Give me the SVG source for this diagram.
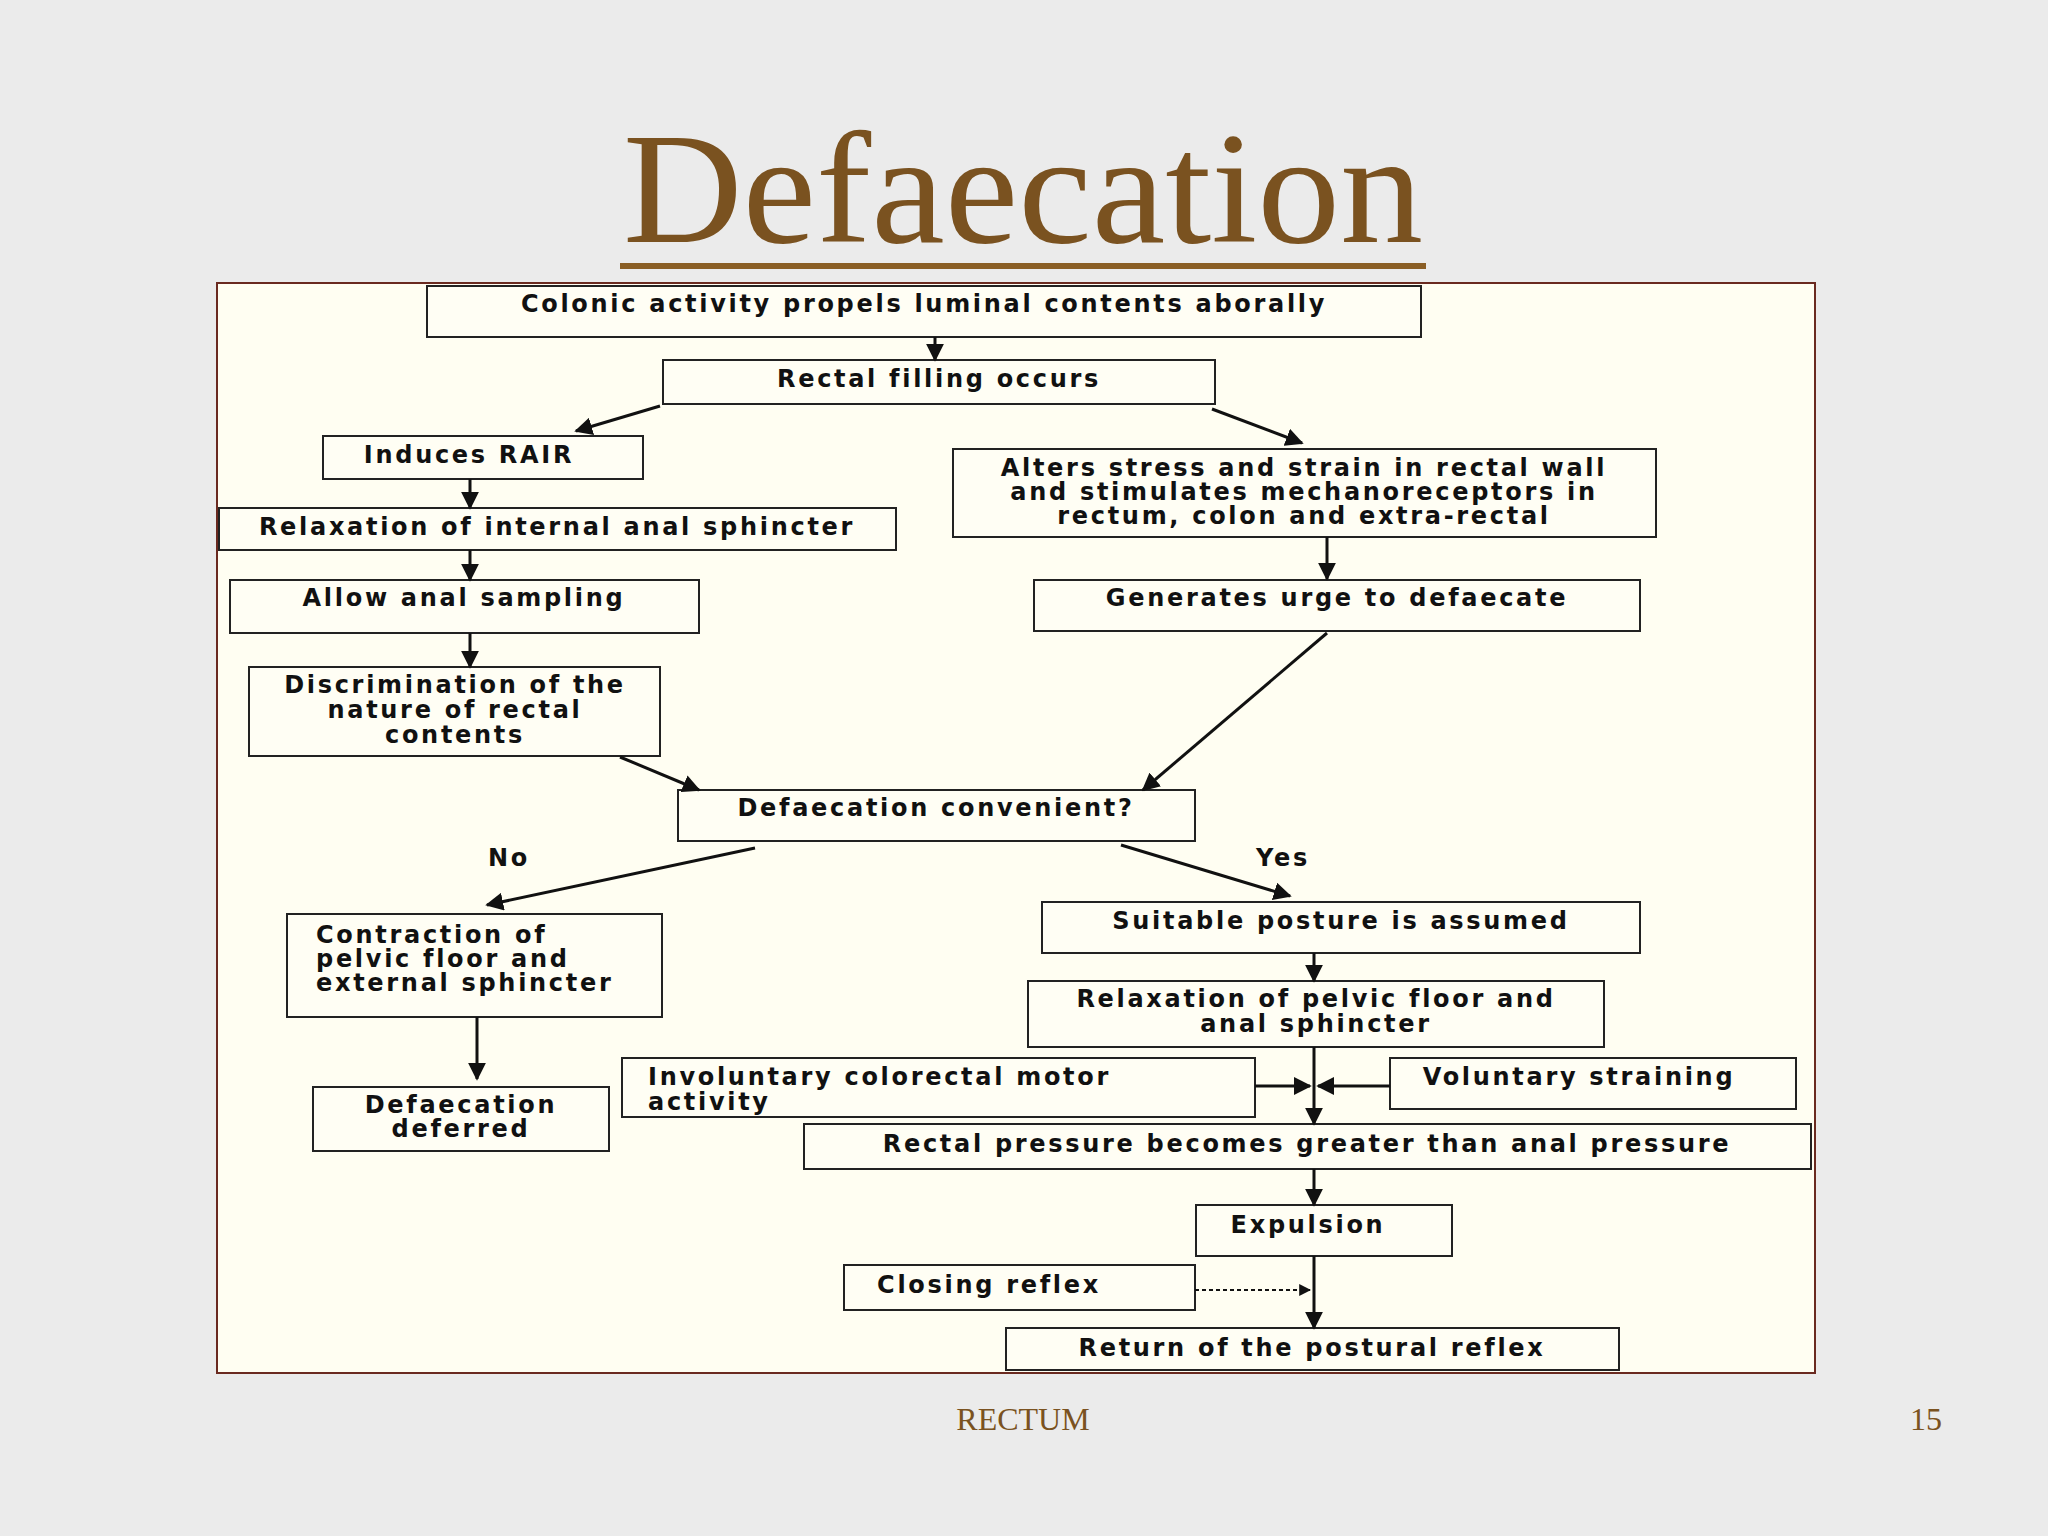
<svg xmlns="http://www.w3.org/2000/svg" width="2048" height="1536" viewBox="0 0 2048 1536">
<defs>
<marker id="ah" viewBox="0 0 10 10" refX="9" refY="5" markerWidth="6" markerHeight="6" orient="auto"><path d="M0,0 L10,5 L0,10 z" fill="#111"/></marker>
<style>
.b rect{fill:#fffef4;stroke:#222;stroke-width:2}
.b text{font-family:"DejaVu Sans",Verdana,sans-serif;font-weight:bold;font-size:24px;letter-spacing:2.7px;fill:#111;text-anchor:middle}
.c line{stroke:#111;stroke-width:3;marker-end:url(#ah)}
.f{font-family:"Liberation Serif","Times New Roman",serif;fill:#7a5220}
</style>
</defs>
<rect width="2048" height="1536" fill="#ebebeb"/>
<text class="f" x="1023" y="242" font-size="158" text-anchor="middle" fill="#8a5e25" textLength="800" lengthAdjust="spacingAndGlyphs">Defaecation</text>
<rect x="620" y="263" width="806" height="6" fill="#8a5e25"/>
<rect x="217" y="283" width="1598" height="1090" fill="#fffef2" stroke="#6a2a20" stroke-width="2"/>
<g class="b">
<g id="n1"><rect x="427" y="286" width="994" height="51"/><text x="924" y="312">Colonic activity propels luminal contents aborally</text></g>
<g id="n2"><rect x="663" y="360" width="552" height="44"/><text x="939" y="387">Rectal filling occurs</text></g>
<g id="n3"><rect x="323" y="436" width="320" height="43"/><text x="469" y="463">Induces RAIR</text></g>
<g id="n4"><rect x="219" y="508" width="677" height="42"/><text x="557" y="535">Relaxation of internal anal sphincter</text></g>
<g id="n5"><rect x="230" y="580" width="469" height="53"/><text x="464" y="606">Allow anal sampling</text></g>
<g id="n6"><rect x="249" y="667" width="411" height="89"/><text x="455" y="693">Discrimination of the</text><text x="455" y="718">nature of rectal</text><text x="455" y="743">contents</text></g>
<g id="n7"><rect x="953" y="449" width="703" height="88"/><text x="1304" y="476">Alters stress and strain in rectal wall</text><text x="1304" y="500">and stimulates mechanoreceptors in</text><text x="1304" y="524">rectum, colon and extra-rectal</text></g>
<g id="n8"><rect x="1034" y="580" width="606" height="51"/><text x="1337" y="606">Generates urge to defaecate</text></g>
<g id="n9"><rect x="678" y="790" width="517" height="51"/><text x="936" y="816">Defaecation convenient?</text></g>
<g id="n10"><rect x="287" y="914" width="375" height="103"/><text x="316" y="943" style="text-anchor:start">Contraction of</text><text x="316" y="967" style="text-anchor:start">pelvic floor and</text><text x="316" y="991" style="text-anchor:start">external sphincter</text></g>
<g id="n11"><rect x="313" y="1087" width="296" height="64"/><text x="461" y="1113">Defaecation</text><text x="461" y="1137">deferred</text></g>
<g id="n12"><rect x="1042" y="902" width="598" height="51"/><text x="1341" y="929">Suitable posture is assumed</text></g>
<g id="n13"><rect x="1028" y="981" width="576" height="66"/><text x="1316" y="1007">Relaxation of pelvic floor and</text><text x="1316" y="1032">anal sphincter</text></g>
<g id="n14"><rect x="622" y="1058" width="633" height="59"/><text x="648" y="1085" style="text-anchor:start">Involuntary colorectal motor</text><text x="648" y="1110" style="text-anchor:start">activity</text></g>
<g id="n15"><rect x="1390" y="1058" width="406" height="51"/><text x="1579" y="1085">Voluntary straining</text></g>
<g id="n16"><rect x="804" y="1124" width="1007" height="45"/><text x="1307" y="1152">Rectal pressure becomes greater than anal pressure</text></g>
<g id="n17"><rect x="1196" y="1205" width="256" height="51"/><text x="1308" y="1233">Expulsion</text></g>
<g id="n18"><rect x="844" y="1265" width="351" height="45"/><text x="989" y="1293">Closing reflex</text></g>
<g id="n19"><rect x="1006" y="1328" width="613" height="42"/><text x="1312" y="1356">Return of the postural reflex</text></g>
<text x="509" y="866">No</text>
<text x="1283" y="866">Yes</text>
</g>
<g class="c" id="connectors">
<line x1="935" y1="337" x2="935" y2="360"/>
<line x1="660" y1="406" x2="576" y2="431"/>
<line x1="1212" y1="409" x2="1302" y2="443"/>
<line x1="470" y1="479" x2="470" y2="508"/>
<line x1="470" y1="550" x2="470" y2="580"/>
<line x1="470" y1="633" x2="470" y2="667"/>
<line x1="1327" y1="537" x2="1327" y2="579"/>
<line x1="620" y1="757" x2="699" y2="790"/>
<line x1="1327" y1="633" x2="1143" y2="790"/>
<line x1="755" y1="848" x2="487" y2="905"/>
<line x1="1121" y1="845" x2="1290" y2="896"/>
<line x1="477" y1="1017" x2="477" y2="1079"/>
<line x1="1314" y1="953" x2="1314" y2="981"/>
<line x1="1314" y1="1047" x2="1314" y2="1124"/>
<line x1="1255" y1="1086" x2="1310" y2="1086"/>
<line x1="1390" y1="1086" x2="1318" y2="1086"/>
<line x1="1314" y1="1169" x2="1314" y2="1205"/>
<line x1="1314" y1="1256" x2="1314" y2="1328"/>
<line x1="1195" y1="1290" x2="1310" y2="1290" stroke-dasharray="4 3" style="stroke-width:2"/>
</g>
<text class="f" x="1023" y="1430" font-size="32" text-anchor="middle">RECTUM</text>
<text class="f" x="1926" y="1430" font-size="32" text-anchor="middle">15</text>
</svg>
